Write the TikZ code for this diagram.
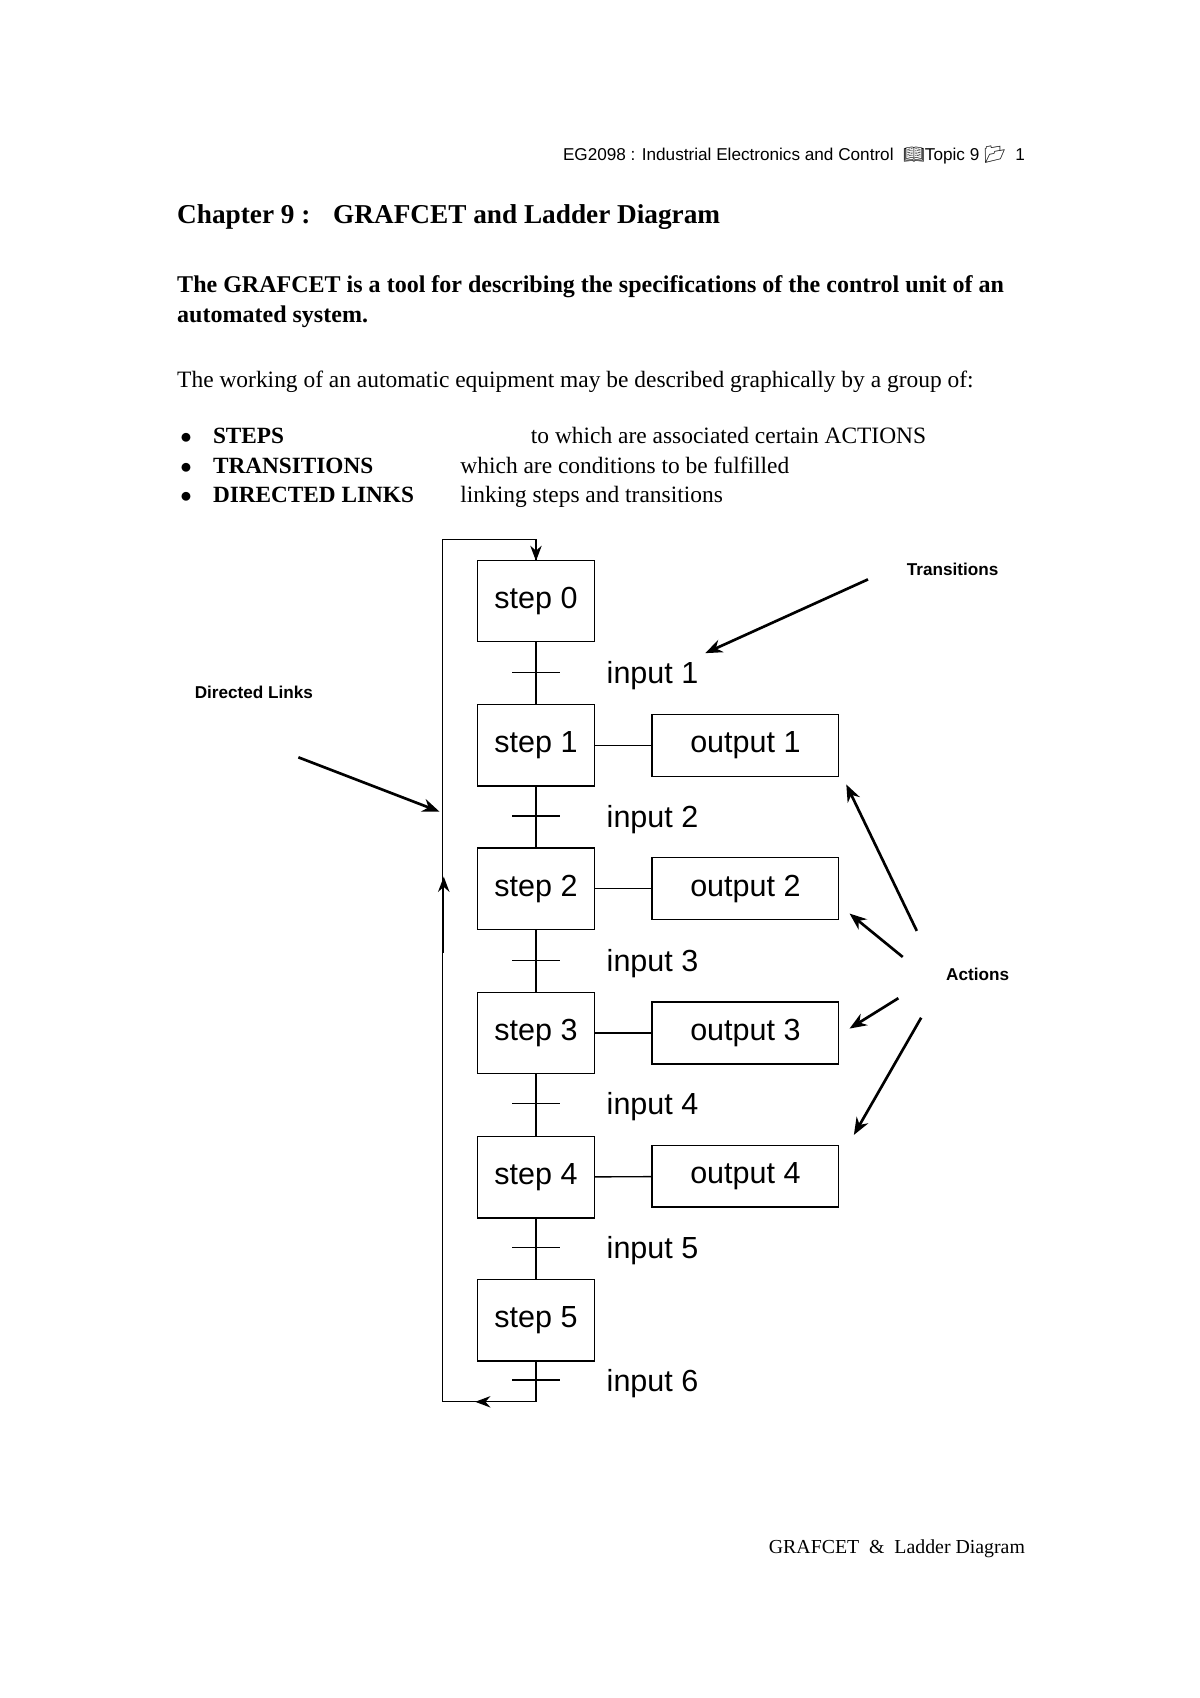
\documentclass[tikz,border=0pt]{standalone}
\usepackage{fontspec}
\setmainfont{Liberation Serif}
\setsansfont{Liberation Sans}
\newfontfamily\emo{Noto Emoji}
\usetikzlibrary{arrows.meta}
\begin{document}
\begin{tikzpicture}[x=0.02cm,y=-0.02cm,
  stepbox/.style={draw,line width=0.7pt,minimum width=108*0.02cm,minimum height=75*0.02cm,font=\sffamily\fontsize{16}{18}\selectfont},
  outbox/.style={draw,line width=0.7pt,minimum width=172*0.02cm,minimum height=57*0.02cm,font=\sffamily\fontsize{16}{18}\selectfont},
  inlab/.style={anchor=west,font=\sffamily\fontsize{16}{18}\selectfont},
  lnk/.style={line width=0.7pt},
  callout/.style={line width=1.4pt,-{Stealth[length=9pt,width=7pt]}},
  small/.style={font=\sffamily\bfseries\fontsize{9}{11}\selectfont},
  txt/.style={anchor=base west,font=\fontsize{12.3}{14}\selectfont,inner sep=0},
  btxt/.style={txt,font=\bfseries\fontsize{12.6}{14}\selectfont}]
\useasboundingbox (0,0) rectangle (1106,1565);
% header
\node[anchor=base east,inner sep=0,font=\sffamily\fontsize{9}{11}\selectfont] (hdr) at (945,148) {EG2098 : Industrial Electronics and Control \ {\emo 📖}Topic 9 {\emo 📂} \ 1};
\node[anchor=base west,inner sep=0,font=\bfseries\fontsize{14.3}{16}\selectfont] (title) at (163,206) {Chapter 9 : \ \ GRAFCET and Ladder Diagram};
\node[btxt] (p1) at (163,270) {The GRAFCET is a tool for describing the specifications of the control unit of an};
\node[btxt] (p2) at (163,297) {automated system.};
\node[txt] (p3) at (163,357) {The working of an automatic equipment may be described graphically by a group of:};
\foreach \y/\w/\d/\dx [count=\i] in {409/STEPS/to which are associated certain ACTIONS/489,436/TRANSITIONS/which are conditions to be fulfilled/424,463/DIRECTED LINKS/linking steps and transitions/424}{
  \node[txt] (b\i) at (166,\y) {$\bullet$};
  \node[btxt,font=\bfseries\fontsize{12.2}{14}\selectfont] (w\i) at (196,\y) {\w};
  \node[txt] (d\i) at (\dx,\y) {\d};
}
% steps
\foreach \i/\y in {0/554,1/687,2/819,3/952,4/1085,5/1217}{
  \node[stepbox] (s\i) at (494,\y) {step \i};
}
\foreach \i/\y in {1/687,2/819,3/952,4/1084}{
  \node[outbox] (o\i) at (687,\y) {output \i};
  \draw[lnk] (s\i) -- (o\i);
}
\foreach \a/\b in {0/1,1/2,2/3,3/4,4/5}{ \draw[lnk] (s\a) -- (s\b); }
\foreach \i/\y in {1/620,2/752,3/885,4/1017,5/1150,6/1272}{
  \coordinate (tl\i) at (472,\y); \coordinate (tr\i) at (516,\y);
  \draw[lnk] (tl\i) -- (tr\i);
  \node[inlab] (in\i) at (553,\y+3) {input \i};
}
% loop
\coordinate (c1) at (494,1292); \coordinate (c2) at (408,1292);
\coordinate (c3) at (408,497); \coordinate (c4) at (494,497);
\draw[lnk] (s5.south) -- (c1) -- (c2) -- (c3) -- (c4) -- (s0.north);
\draw[lnk,-{Stealth[length=8pt,width=6pt]}] (c1) -- (438,1292);
\draw[lnk,-{Stealth[length=8pt,width=6pt]}] (c4) -- (494,517);
\draw[lnk,-{Stealth[length=8pt,width=6pt]}] (409,878) -- (409,808);
% callouts
\node[small] (tr) at (878,525) {Transitions};
\node[small] (dl) at (234,638) {Directed Links};
\node[small] (ac) at (901,898) {Actions};
\coordinate (t1) at (800,534); \coordinate (t2) at (650,602);
\draw[callout] (t1) -- (t2);
\coordinate (d1) at (275,698); \coordinate (d2) at (405,748);
\draw[callout] (d1) -- (d2);
\coordinate (a1s) at (845,858); \coordinate (a1e) at (780,723);
\coordinate (a2s) at (832,882); \coordinate (a2e) at (783,842);
\coordinate (a3s) at (828,920); \coordinate (a3e) at (783,948);
\coordinate (a4s) at (849,938); \coordinate (a4e) at (787,1046);
\draw[callout] (a1s) -- (a1e);
\draw[callout] (a2s) -- (a2e);
\draw[callout] (a3s) -- (a3e);
\draw[callout] (a4s) -- (a4e);
% footer
\node[anchor=base east,inner sep=0,font=\fontsize{10.4}{13}\selectfont] (ftr) at (945,1432) {GRAFCET \ \& \ Ladder Diagram};
\end{tikzpicture}
\end{document}
